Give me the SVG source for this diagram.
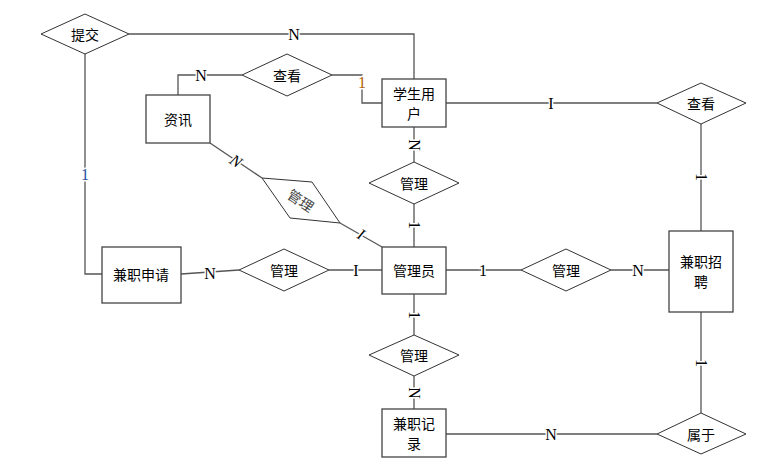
<svg xmlns="http://www.w3.org/2000/svg" width="774" height="473" viewBox="0 0 774 473">
<style>
.box{fill:#fff;stroke:#444;stroke-width:1.3}
.dia{fill:#fff;stroke:#333;stroke-width:1}
.ln{fill:none;stroke:#555;stroke-width:1.3}
.t{font-family:"Noto Sans CJK SC",sans-serif;font-size:14px;fill:#000;text-anchor:middle;dominant-baseline:central}
.lb{font-family:"Liberation Serif",serif;font-size:16px;fill:#000;text-anchor:middle;dominant-baseline:central;stroke:#fff;stroke-width:3;paint-order:stroke}
</style>
<rect width="774" height="473" fill="#fff"/>
<g id="connectors">
<polyline class="ln" points="129,34 414,34 414,79"/>
<polyline class="ln" points="242,75 178,75 178,95"/>
<polyline class="ln" points="332,75 362,75 362,103 382,103"/>
<line class="ln" x1="446" y1="103" x2="657" y2="103"/>
<line class="ln" x1="701" y1="124" x2="701" y2="231"/>
<line class="ln" x1="414" y1="127" x2="414" y2="162"/>
<line class="ln" x1="414" y1="204" x2="414" y2="247"/>
<polyline class="ln" points="85,54 85,274 102,274"/>
<line class="ln" x1="181" y1="274" x2="239" y2="270"/>
<line class="ln" x1="329" y1="270" x2="382" y2="270"/>
<line class="ln" x1="446" y1="270" x2="521" y2="270"/>
<line class="ln" x1="611" y1="270" x2="669" y2="270"/>
<line class="ln" x1="701" y1="312" x2="701" y2="413"/>
<line class="ln" x1="414" y1="294" x2="414" y2="335"/>
<line class="ln" x1="414" y1="376" x2="414" y2="409"/>
<line class="ln" x1="446" y1="434" x2="657" y2="434"/>
<line class="ln" x1="210" y1="143" x2="262" y2="178"/>
<line class="ln" x1="340" y1="223" x2="382" y2="247"/>
<text class="lb" x="294" y="34">N</text>
<text class="lb" x="201" y="75">N</text>
<text class="lb" x="362" y="82" style="fill:#b06000">1</text>
<text class="lb" x="551" y="103">I</text>
<text class="lb" transform="translate(701,177) rotate(90)">1</text>
<text class="lb" transform="translate(414,145) rotate(90)">N</text>
<text class="lb" transform="translate(414,225) rotate(90)">1</text>
<text class="lb" x="85" y="174" style="fill:#1f4fa0">1</text>
<text class="lb" x="210" y="273">N</text>
<text class="lb" x="356" y="270">I</text>
<text class="lb" x="483" y="270">1</text>
<text class="lb" x="638" y="270">N</text>
<text class="lb" transform="translate(701,363) rotate(90)">1</text>
<text class="lb" transform="translate(414,315) rotate(90)">1</text>
<text class="lb" transform="translate(414,393) rotate(90)">N</text>
<text class="lb" x="551" y="434">N</text>
<text class="lb" transform="translate(236,161) rotate(34)" style="font-style:italic">N</text>
<text class="lb" transform="translate(361,234) rotate(30)" style="font-style:italic">I</text>
</g>
<g id="tijiao"><polygon class="dia" points="41,34 85,14 129,34 85,54"/><text class="t" x="85" y="34">提交</text></g>
<g id="chakan1"><polygon class="dia" points="242,75 287,54 332,75 287,96"/><text class="t" x="287" y="75">查看</text></g>
<g id="zixun"><rect class="box" x="146" y="95" width="64" height="48"/><text class="t" x="178" y="119">资讯</text></g>
<g id="xuesheng"><rect class="box" x="382" y="79" width="64" height="48"/><text class="t" x="414" y="93">学生用</text><text class="t" x="414" y="113">户</text></g>
<g id="chakan2"><polygon class="dia" points="657,103 701,83 746,103 701,124"/><text class="t" x="701" y="103">查看</text></g>
<g id="guanli1"><polygon class="dia" points="369,183 414,162 459,183 414,204"/><text class="t" x="414" y="183">管理</text></g>
<g id="guanli_diag"><polygon class="dia" points="262,178 312,182 340,223 290,218"/><text class="t" transform="translate(301,200) rotate(34)" style="fill:#444">管理</text></g>
<g id="guanliyuan"><rect class="box" x="382" y="247" width="64" height="47"/><text class="t" x="414" y="270">管理员</text></g>
<g id="shenqing"><rect class="box" x="102" y="247" width="79" height="56"/><text class="t" x="141" y="274">兼职申请</text></g>
<g id="guanli2"><polygon class="dia" points="239,270 284,249 329,270 284,291"/><text class="t" x="284" y="270">管理</text></g>
<g id="guanli3"><polygon class="dia" points="521,270 566,249 611,270 566,291"/><text class="t" x="566" y="270">管理</text></g>
<g id="zhaopin"><rect class="box" x="669" y="231" width="64" height="81"/><text class="t" x="701" y="261">兼职招</text><text class="t" x="701" y="281">聘</text></g>
<g id="guanli4"><polygon class="dia" points="369,355 414,335 459,355 414,376"/><text class="t" x="414" y="355">管理</text></g>
<g id="jilu"><rect class="box" x="382" y="409" width="64" height="48"/><text class="t" x="414" y="423">兼职记</text><text class="t" x="414" y="443">录</text></g>
<g id="shuyu"><polygon class="dia" points="657,434 701,413 746,434 701,454"/><text class="t" x="701" y="434">属于</text></g>
</svg>
